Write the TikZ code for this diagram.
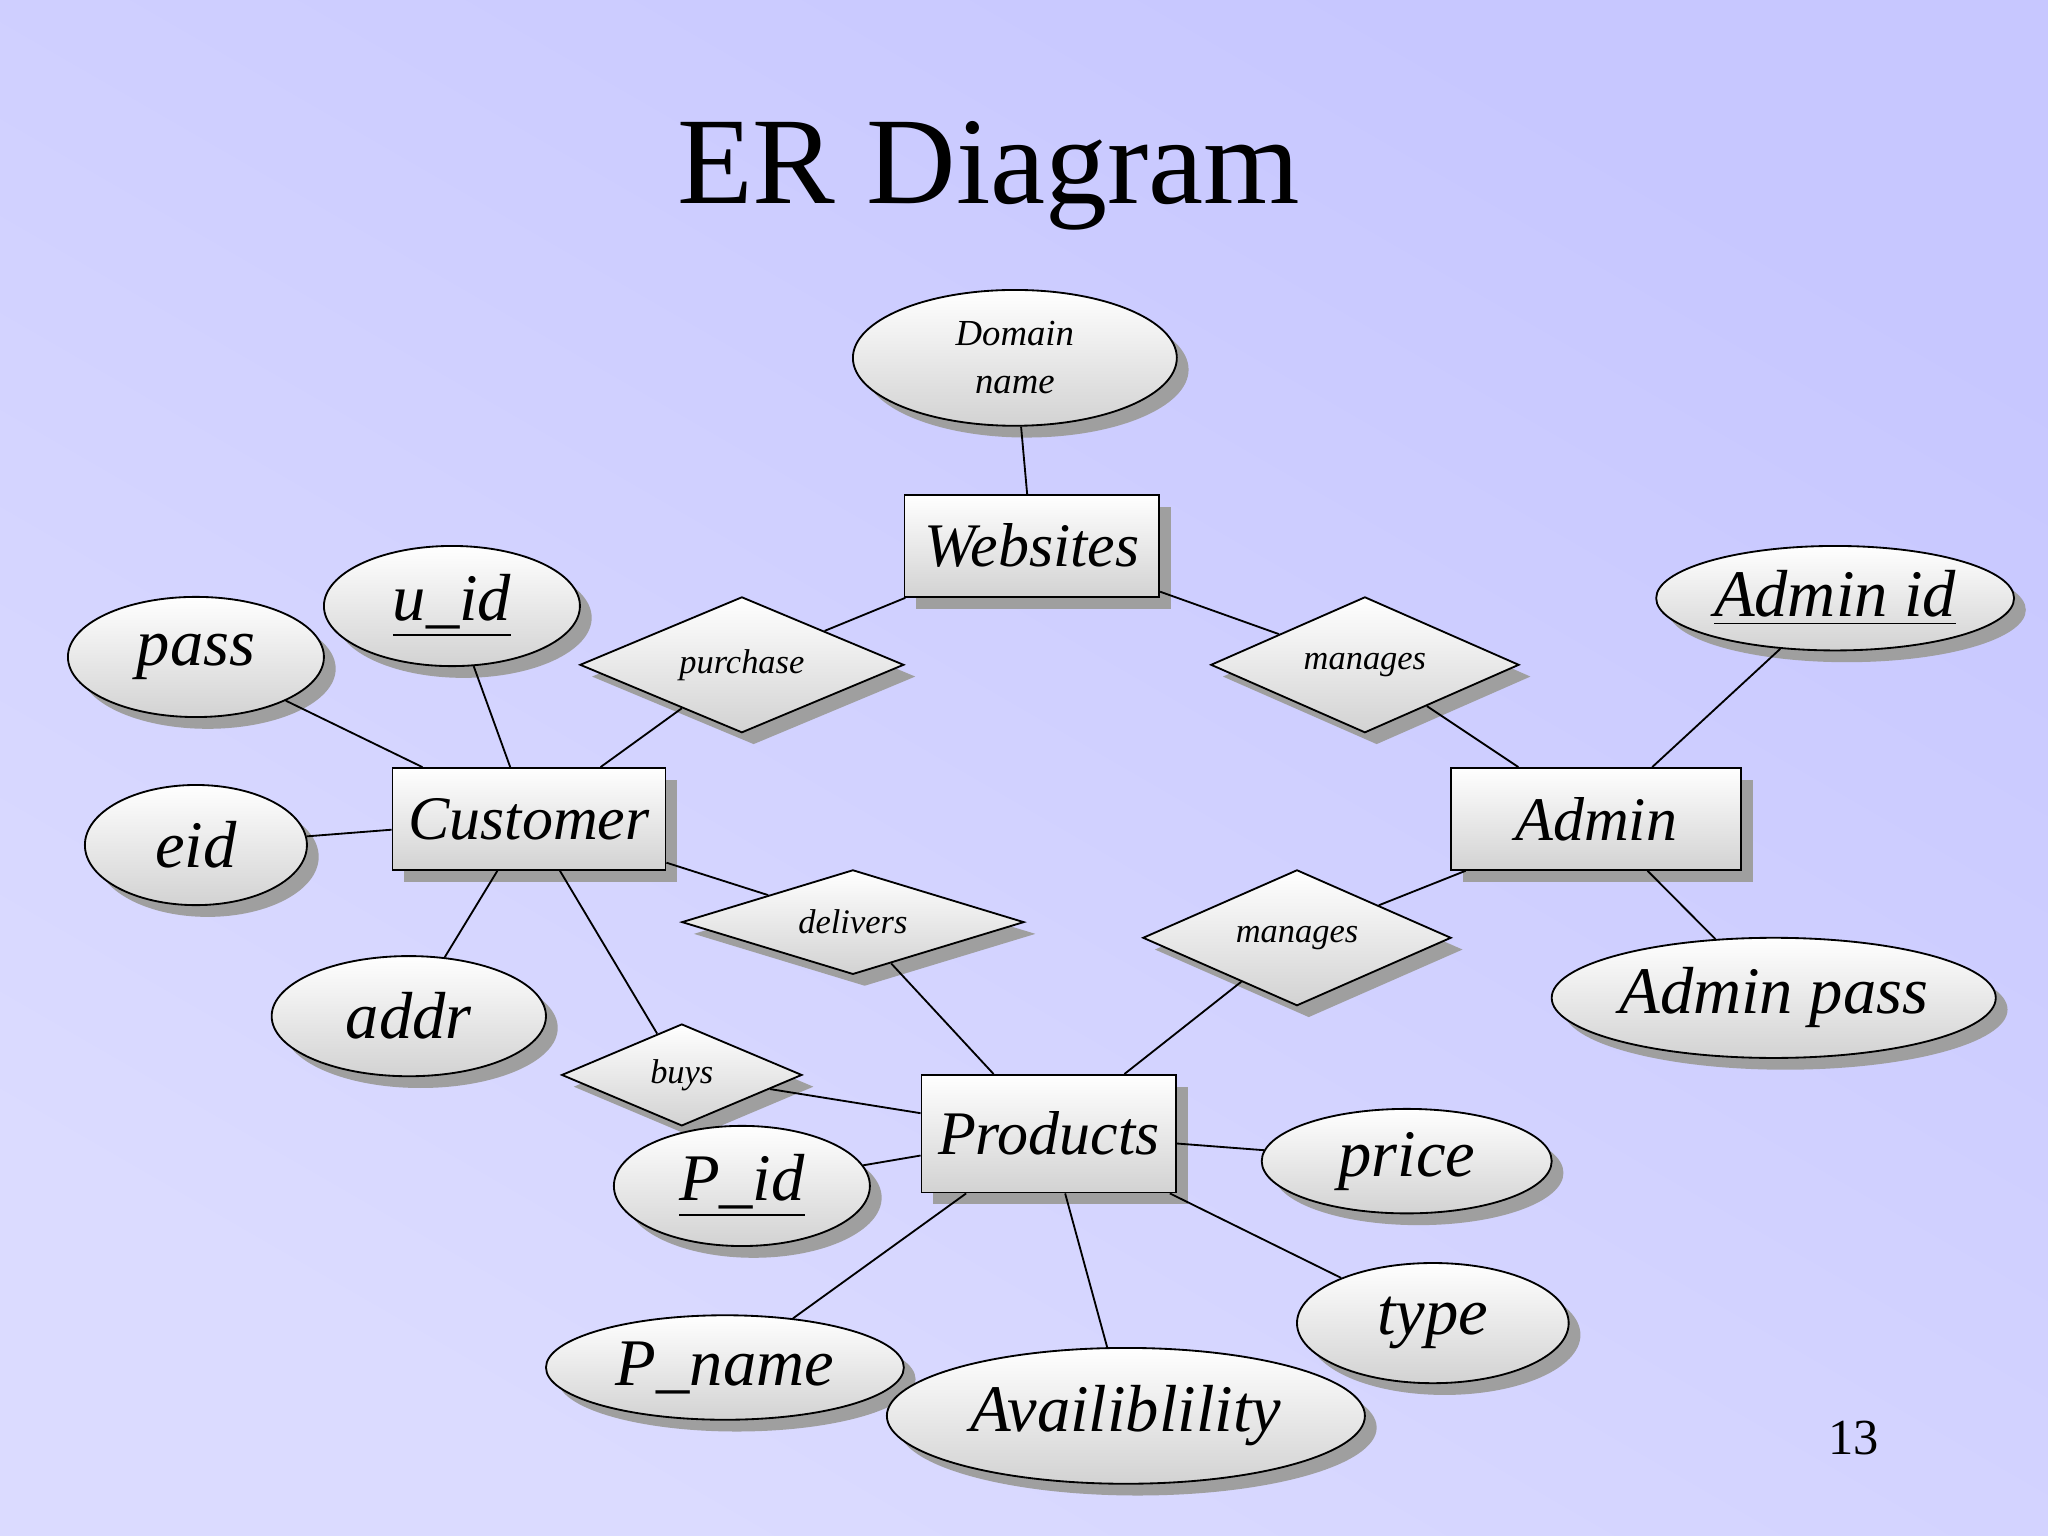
\documentclass[tikz,border=0pt]{standalone}
\usepackage{fontspec}
\setmainfont{Liberation Serif}
\usetikzlibrary{positioning}
\usetikzlibrary{calc}
\usetikzlibrary{shapes.geometric,shadows}

\tikzset{
  shd/.style={drop shadow={shadow xshift=0.09, shadow yshift=-0.09, fill=gray!75, opacity=1}},
  ent/.style={rectangle, draw, shd, top color=white, bottom color=gray!35, inner sep=0pt, font=\fontsize{13.5}{15}\selectfont\itshape},
  att/.style={ellipse, draw, shd, top color=white, bottom color=gray!35, inner sep=0pt, font=\fontsize{14.5}{16}\selectfont\itshape},
  rel/.style={diamond, draw, shd, aspect=2.4, top color=white, bottom color=gray!35, inner sep=0pt, font=\fontsize{7.5}{9}\selectfont\itshape},
  lnk/.style={draw, thin}
}

\begin{document}
\begin{tikzpicture}
\shade[left color=blue!22, middle color=white, right color=blue!14, shading angle=-30] (0,0) rectangle (15.68,-11.76);
\useasboundingbox (0,0) rectangle (15.68,-11.76);

\node[font=\fontsize{27}{29}\selectfont](title) at (7.57,-1.35){ER Diagram};
\node[font=\fontsize{11}{11}\selectfont](page) at (14.19,-11.01){13};

% entities
\node[ent, minimum width=1.95cm, minimum height=0.78cm](web) at (7.90,-4.18){Websites};
\node[ent, minimum width=2.09cm, minimum height=0.78cm](cust) at (4.05,-6.27){Customer};
\node[ent, minimum width=2.22cm, minimum height=0.78cm](adm) at (12.22,-6.27){Admin};
\node[ent, minimum width=1.95cm, minimum height=0.90cm](prod) at (8.03,-8.68){Products};

% relationships
\node[rel, minimum width=2.48cm, minimum height=1.04cm](purch) at (5.68,-5.09){purchase};
\node[rel, minimum width=2.36cm, minimum height=1.04cm](mng) at (10.45,-5.09){manages};
\node[rel, minimum width=2.62cm, minimum height=0.80cm](deliv) at (6.53,-7.06){delivers};
\node[rel, minimum width=2.36cm, minimum height=1.04cm](mngp) at (9.93,-7.18){manages};
\node[rel, minimum width=1.84cm, minimum height=0.78cm](buys) at (5.22,-8.23){buys};

% attributes
\node[att, minimum width=2.48cm, minimum height=1.04cm, align=center, font=\fontsize{8}{10.5}\selectfont\itshape](dom) at (7.77,-2.74){Domain\\name};
\node[att, minimum width=2.74cm, minimum height=0.80cm](admid) at (14.05,-4.58){\underline{Admin id}};
\node[att, minimum width=1.96cm, minimum height=0.92cm](uid) at (3.46,-4.64){\underline{u\_id}};
\node[att, minimum width=1.96cm, minimum height=0.92cm](pass) at (1.50,-5.03){pass};
\node[att, minimum width=1.70cm, minimum height=0.92cm](eid) at (1.50,-6.47){eid};
\node[att, minimum width=2.10cm, minimum height=0.92cm](addr) at (3.13,-7.78){addr};
\node[att, minimum width=3.40cm, minimum height=0.92cm](admpass) at (13.58,-7.64){Admin pass};
\node[att, minimum width=2.22cm, minimum height=0.80cm](price) at (10.77,-8.89){price};
\node[att, minimum width=1.96cm, minimum height=0.92cm](pid) at (5.68,-9.08){\underline{P\_id}};
\node[att, minimum width=2.08cm, minimum height=0.92cm](type) at (10.97,-10.13){type};
\node[att, minimum width=2.74cm, minimum height=0.80cm](pname) at (5.55,-10.47){P\_name};
\node[att, minimum width=3.66cm, minimum height=1.04cm](avail) at (8.62,-10.84){Availiblility};

\path[lnk]
(web) -- (dom)
(web) -- (purch)
(purch) -- (cust)
(web) -- (mng)
(mng) -- (adm)
(adm) -- (admid)
(cust) -- (pass)
(cust) -- (uid)
(cust) -- (eid)
(cust) -- (addr)
(cust) -- (deliv)
(deliv) -- (prod)
(cust) -- (buys)
(buys) -- (prod)
(adm) -- (mngp)
(mngp) -- (prod)
(adm) -- (admpass)
(prod) -- (pid)
(prod) -- (price)
(prod) -- (type)
(prod) -- (pname)
(prod) -- (avail);
\end{tikzpicture}
\end{document}
